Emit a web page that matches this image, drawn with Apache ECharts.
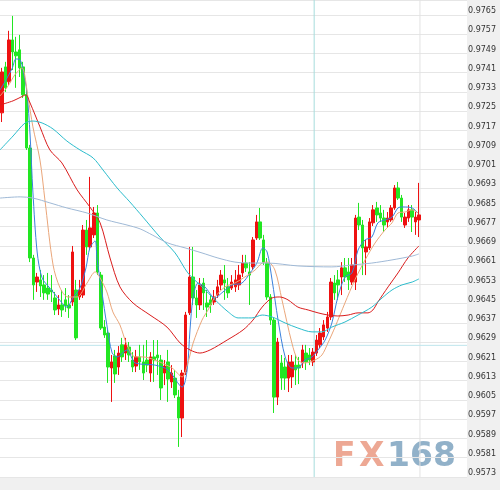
<!DOCTYPE html>
<html>
<head>
<meta charset="utf-8">
<script src="https://cdn.jsdelivr.net/npm/echarts@6.0.0/dist/echarts.min.js"></script>
<style>
html, body { margin: 0; padding: 0; background: #fff; }
#main { width: 500px; height: 490px; }
</style>
</head>
<body>
<div id="main"></div>
<script>
// number of time slots on the x axis (candles fill the first 119, the rest is empty)
var slotCount = 132

// candles (red = up, green = down)
var openPrices = [
  0.97243, 0.97434, 0.97372, 0.97546, 0.97496, 0.97505, 0.97434, 0.97318, 0.97097, 0.96640,
  0.96540, 0.96549, 0.96528, 0.96515, 0.96507, 0.96474, 0.96428, 0.96445, 0.96466, 0.96445,
  0.96457, 0.96507, 0.96478, 0.96486, 0.96756, 0.96686, 0.96736, 0.96827, 0.96569, 0.96353,
  0.96328, 0.96183, 0.96233, 0.96187, 0.96279, 0.96245, 0.96270, 0.96216, 0.96191, 0.96229,
  0.96208, 0.96216, 0.96162, 0.96229, 0.96237, 0.96216, 0.96162, 0.96208, 0.96125, 0.96141,
  0.96062, 0.95975, 0.96166, 0.96412, 0.96561, 0.96474, 0.96445, 0.96536, 0.96453, 0.96466,
  0.96457, 0.96486, 0.96528, 0.96549, 0.96520, 0.96515, 0.96520, 0.96528, 0.96578, 0.96619,
  0.96582, 0.96603, 0.96723, 0.96790, 0.96715, 0.96619, 0.96478, 0.96382, 0.96062, 0.96204,
  0.96187, 0.96141, 0.96146, 0.96195, 0.96195, 0.96204, 0.96245, 0.96237, 0.96208, 0.96245,
  0.96279, 0.96312, 0.96349, 0.96395, 0.96536, 0.96549, 0.96561, 0.96599, 0.96582, 0.96540,
  0.96540, 0.96810, 0.96777, 0.96665, 0.96682, 0.96786, 0.96848, 0.96827, 0.96806, 0.96790,
  0.96798, 0.96848, 0.96931, 0.96889, 0.96777, 0.96806, 0.96840, 0.96790, 0.96798
]
var closePrices = [
  0.97413, 0.97347, 0.97546, 0.97496, 0.97480, 0.97430, 0.97318, 0.97097, 0.96640, 0.96528,
  0.96561, 0.96524, 0.96495, 0.96490, 0.96499, 0.96424, 0.96445, 0.96424, 0.96441, 0.96432,
  0.96665, 0.96308, 0.96507, 0.96756, 0.96686, 0.96765, 0.96827, 0.96582, 0.96349, 0.96320,
  0.96187, 0.96208, 0.96158, 0.96245, 0.96229, 0.96279, 0.96237, 0.96187, 0.96229, 0.96208,
  0.96162, 0.96195, 0.96229, 0.96216, 0.96225, 0.96100, 0.96191, 0.96137, 0.96162, 0.96071,
  0.95975, 0.96162, 0.96403, 0.96561, 0.96474, 0.96445, 0.96528, 0.96495, 0.96436, 0.96445,
  0.96478, 0.96520, 0.96569, 0.96536, 0.96495, 0.96540, 0.96549, 0.96569, 0.96619, 0.96599,
  0.96569, 0.96715, 0.96790, 0.96723, 0.96623, 0.96478, 0.96382, 0.96062, 0.96291, 0.96141,
  0.96141, 0.96208, 0.96208, 0.96175, 0.96183, 0.96258, 0.96208, 0.96216, 0.96249, 0.96299,
  0.96328, 0.96362, 0.96395, 0.96540, 0.96495, 0.96528, 0.96599, 0.96561, 0.96549, 0.96611,
  0.96806, 0.96777, 0.96682, 0.96686, 0.96790, 0.96840, 0.96819, 0.96806, 0.96777, 0.96806,
  0.96848, 0.96931, 0.96889, 0.96810, 0.96810, 0.96840, 0.96810, 0.96810, 0.96819
]
var lowPrices = [
  0.97205, 0.97330, 0.97359, 0.97421, 0.97347, 0.97392, 0.97305, 0.97089, 0.96623, 0.96466,
  0.96499, 0.96478, 0.96466, 0.96466, 0.96457, 0.96403, 0.96403, 0.96395, 0.96416, 0.96391,
  0.96441, 0.96299, 0.96466, 0.96474, 0.96653, 0.96673, 0.96723, 0.96569, 0.96341, 0.96308,
  0.96121, 0.96042, 0.96121, 0.96154, 0.96208, 0.96216, 0.96208, 0.96166, 0.96166, 0.96175,
  0.96133, 0.96166, 0.96125, 0.96125, 0.96154, 0.96050, 0.96112, 0.96042, 0.96100, 0.96058,
  0.95855, 0.95896, 0.96154, 0.96403, 0.96445, 0.96391, 0.96424, 0.96424, 0.96395, 0.96412,
  0.96445, 0.96474, 0.96507, 0.96466, 0.96474, 0.96507, 0.96499, 0.96507, 0.96561, 0.96582,
  0.96445, 0.96590, 0.96715, 0.96715, 0.96611, 0.96466, 0.96362, 0.95996, 0.96029, 0.96092,
  0.96092, 0.96083, 0.96100, 0.96112, 0.96116, 0.96183, 0.96175, 0.96195, 0.96191, 0.96233,
  0.96266, 0.96299, 0.96333, 0.96382, 0.96466, 0.96466, 0.96486, 0.96540, 0.96507, 0.96528,
  0.96507, 0.96756, 0.96569, 0.96569, 0.96673, 0.96773, 0.96790, 0.96790, 0.96748, 0.96765,
  0.96790, 0.96840, 0.96881, 0.96790, 0.96765, 0.96790, 0.96748, 0.96736, 0.96727
]
var highPrices = [
  0.97430, 0.97455, 0.97584, 0.97646, 0.97559, 0.97567, 0.97455, 0.97338, 0.97110, 0.96653,
  0.96578, 0.96590, 0.96569, 0.96578, 0.96569, 0.96499, 0.96486, 0.96507, 0.96515, 0.96486,
  0.96690, 0.96549, 0.96549, 0.96777, 0.96798, 0.96977, 0.96852, 0.96860, 0.96582, 0.96382,
  0.96341, 0.96237, 0.96258, 0.96274, 0.96308, 0.96308, 0.96291, 0.96249, 0.96258, 0.96279,
  0.96279, 0.96299, 0.96249, 0.96299, 0.96299, 0.96237, 0.96216, 0.96258, 0.96195, 0.96175,
  0.96092, 0.96175, 0.96416, 0.96686, 0.96686, 0.96507, 0.96557, 0.96557, 0.96507, 0.96486,
  0.96507, 0.96549, 0.96590, 0.96611, 0.96557, 0.96569, 0.96590, 0.96611, 0.96653, 0.96653,
  0.96623, 0.96727, 0.96819, 0.96848, 0.96736, 0.96640, 0.96490, 0.96391, 0.96308, 0.96237,
  0.96225, 0.96237, 0.96237, 0.96237, 0.96229, 0.96279, 0.96279, 0.96266, 0.96266, 0.96320,
  0.96349, 0.96382, 0.96416, 0.96557, 0.96569, 0.96590, 0.96623, 0.96640, 0.96640, 0.96640,
  0.96819, 0.96869, 0.96798, 0.96715, 0.96806, 0.96860, 0.96873, 0.96860, 0.96840, 0.96831,
  0.96860, 0.96943, 0.96956, 0.96902, 0.96827, 0.96860, 0.96860, 0.96831, 0.96952
]

// moving average lines as [slot, price]
var maBlue = [
  [-0.5, 0.97338], [1.5, 0.97388], [3, 0.97430], [4, 0.97467], [5.2, 0.97463], [6, 0.97421],
  [7.1, 0.97330], [8, 0.97151], [8.8, 0.96914], [10, 0.96665], [11.4, 0.96557], [13.6, 0.96515],
  [15.9, 0.96474], [18.4, 0.96436], [20.1, 0.96474], [22.1, 0.96515], [23.8, 0.96599], [24.9, 0.96682],
  [26.4, 0.96711], [26.9, 0.96640], [28.3, 0.96499], [29.7, 0.96362], [31.2, 0.96245], [32.6, 0.96229],
  [35.4, 0.96258], [37.7, 0.96204], [43.3, 0.96195], [47, 0.96175], [51, 0.96104], [52.4, 0.96175],
  [53.2, 0.96341], [54.1, 0.96478], [55.5, 0.96536], [57.4, 0.96520], [60.3, 0.96474], [62.2, 0.96495],
  [65.1, 0.96528], [67.9, 0.96536], [70.2, 0.96578], [72.1, 0.96619], [73.8, 0.96682], [75, 0.96665],
  [76.4, 0.96549], [78.1, 0.96382], [80.1, 0.96229], [82, 0.96183], [83.7, 0.96183], [85.7, 0.96216],
  [87.7, 0.96229], [89.4, 0.96258], [91.4, 0.96299], [93.3, 0.96370], [95, 0.96478], [97, 0.96561],
  [99, 0.96578], [100.7, 0.96673], [102.7, 0.96715], [104.6, 0.96727], [106.3, 0.96786], [108.3, 0.96798],
  [110.3, 0.96810], [112, 0.96848], [113.4, 0.96852], [116, 0.96848], [117.6, 0.96827]
]
var maTan = [
  [-0.5, 0.97313], [1.8, 0.97355], [3.7, 0.97401], [5.7, 0.97430], [7.4, 0.97309], [8.8, 0.97185],
  [10.8, 0.97047], [12.2, 0.96881], [14.5, 0.96611], [16.5, 0.96515], [18.7, 0.96478], [21.3, 0.96478],
  [24.1, 0.96536], [26.4, 0.96582], [27.8, 0.96557], [29.7, 0.96499], [31.4, 0.96416], [33.4, 0.96362],
  [35.4, 0.96279], [37.7, 0.96229], [39.9, 0.96229], [43.3, 0.96216], [48.1, 0.96183], [51, 0.96146],
  [52.6, 0.96204], [54.1, 0.96287], [56.6, 0.96382], [58.3, 0.96424], [60.3, 0.96478], [63.1, 0.96520],
  [65.9, 0.96536], [68.7, 0.96561], [71.6, 0.96590], [73.6, 0.96619], [75.2, 0.96623], [77.2, 0.96590],
  [79.2, 0.96466], [82, 0.96287], [83.7, 0.96216], [85.7, 0.96204], [88.5, 0.96216], [90.5, 0.96237],
  [92.2, 0.96287], [94.2, 0.96353], [97, 0.96453], [99.8, 0.96549], [102.7, 0.96632], [105.5, 0.96702],
  [108.3, 0.96756], [110.3, 0.96786], [112, 0.96827], [114, 0.96831], [116, 0.96840], [117.6, 0.96827]
]
var maRed = [
  [-0.5, 0.97276], [3.2, 0.97293], [6, 0.97313], [6.8, 0.97318], [8, 0.97284], [10.8, 0.97185],
  [13.6, 0.97089], [17, 0.97035], [21.3, 0.96923], [24.9, 0.96852], [27.8, 0.96786], [30.6, 0.96640],
  [33.4, 0.96520], [37.1, 0.96453], [41.9, 0.96403], [46.7, 0.96353], [50.4, 0.96287], [53.2, 0.96258],
  [56, 0.96245], [58.9, 0.96258], [63.7, 0.96299], [68.2, 0.96341], [71, 0.96382], [73.6, 0.96436],
  [76.4, 0.96474], [78.6, 0.96478], [80.9, 0.96466], [83.7, 0.96436], [86.6, 0.96424], [89.4, 0.96412],
  [92.2, 0.96403], [95, 0.96399], [97.9, 0.96403], [100.7, 0.96412], [103.5, 0.96412], [104.9, 0.96424],
  [106.3, 0.96457], [109.2, 0.96520], [112, 0.96578], [114.8, 0.96640], [117.9, 0.96690]
]
var maCyan = [
  [-0.5, 0.97089], [3.2, 0.97147], [6.6, 0.97201], [8.8, 0.97209], [11.4, 0.97201], [14.5, 0.97176],
  [18.4, 0.97126], [22.1, 0.97089], [25.8, 0.97056], [28.6, 0.97006], [32.6, 0.96931], [36.2, 0.96873],
  [39.9, 0.96810], [44.7, 0.96727], [49, 0.96661], [52.6, 0.96578], [56.6, 0.96520], [60.3, 0.96466],
  [64, 0.96416], [66.8, 0.96391], [70.7, 0.96391], [73.6, 0.96403], [76.4, 0.96395], [80.1, 0.96370],
  [83.7, 0.96349], [87.7, 0.96333], [90.5, 0.96333], [93.3, 0.96353], [97, 0.96374], [100.7, 0.96403],
  [104.6, 0.96436], [107.5, 0.96474], [110.3, 0.96507], [113.1, 0.96528], [116, 0.96540], [117.9, 0.96553]
]
var maSteel = [
  [-0.5, 0.96889], [5.2, 0.96894], [8.8, 0.96889], [13.6, 0.96869], [18.4, 0.96848], [24.1, 0.96827],
  [29.7, 0.96798], [35.4, 0.96777], [39.1, 0.96761], [42.5, 0.96736], [47, 0.96702], [51.8, 0.96682],
  [56.6, 0.96661], [61.1, 0.96640], [65.9, 0.96623], [70.7, 0.96619], [75.2, 0.96619], [83.7, 0.96607],
  [93.3, 0.96603], [99, 0.96611], [104.6, 0.96619], [110.3, 0.96632], [116, 0.96648], [117.9, 0.96657]
]

// crosshair and the "now" line
var crossSlot = 88.3
var crossPrice = 0.96277
var nowSlot = 118.2

var priceMin = 0.9573
var priceMax = 0.97712

var slotLabels = []
for (var i = 0; i < slotCount; i++) slotLabels.push(String(i))

var candles = openPrices.map(function (o, k) {
  return [o, closePrices[k], lowPrices[k], highPrices[k]]
})

var UP = '#ee1111'
var DOWN = '#22e622'

function maSeries (points, color) {
  return {
    type: 'line',
    xAxisIndex: 1,
    data: points,
    showSymbol: false,
    smooth: 0.3,
    silent: true,
    lineStyle: { width: 1, color: color },
    itemStyle: { color: color }
  }
}

function guide (points, color) {
  return {
    type: 'line',
    xAxisIndex: 1,
    data: points,
    showSymbol: false,
    silent: true,
    z: 1,
    lineStyle: { width: 1, color: color },
    itemStyle: { color: color }
  }
}

var chartDom = document.getElementById('main')
var myChart = echarts.init(chartDom)

var option = {
  animation: false,
  backgroundColor: '#f0f0f0',
  grid: {
    left: 0, right: 33, top: 0, bottom: 13,
    show: true, backgroundColor: '#fff', borderWidth: 0
  },
  xAxis: [
    { type: 'category', data: slotLabels, boundaryGap: true, show: false },
    { type: 'value', min: -0.5, max: slotCount - 0.5, show: false }
  ],
  yAxis: {
    type: 'value',
    position: 'right',
    min: priceMin,
    max: priceMax,
    interval: 0.0008,
    axisLine: { show: false },
    axisTick: { show: false },
    splitLine: { lineStyle: { color: '#e6e6e6', width: 1 } },
    axisLabel: {
      margin: 1,
      fontSize: 8,
      fontFamily: 'DejaVu Sans',
      color: '#333',
      verticalAlign: 'bottom',
      showMaxLabel: false,
      formatter: function (v) { return v.toFixed(4) }
    }
  },
  graphic: [
    { type: 'text', left: 333, top: 441, style: { text: 'F', font: 'bold 33px "DejaVu Sans"', fill: '#eda894' } },
    { type: 'text', left: 359, top: 441, style: { text: 'X', font: 'bold 33px "DejaVu Sans"', fill: '#eda894' } },
    { type: 'text', left: 387, top: 441, style: { text: '168', font: 'bold 33px "DejaVu Sans"', fill: '#91b1c9' } }
  ],
  series: [
    guide([[nowSlot, priceMin], [nowSlot, priceMax]], '#e2e2e2'),
    guide([[crossSlot, priceMin], [crossSlot, priceMax]], '#a6dcdc'),
    guide([[-0.5, crossPrice], [slotCount - 0.5, crossPrice]], '#bfe6ec'),
    {
      type: 'candlestick',
      xAxisIndex: 0,
      data: candles,
      barWidth: 3,
      silent: true,
      itemStyle: {
        color: UP, color0: DOWN,
        borderColor: UP, borderColor0: DOWN,
        borderWidth: 1
      }
    },
    maSeries(maBlue, '#3a80dc'),
    maSeries(maTan, '#eaa67a'),
    maSeries(maRed, '#d91c1c'),
    maSeries(maCyan, '#2cbccc'),
    maSeries(maSteel, '#9fb9d6')
  ]
}

myChart.setOption(option)
</script>
</body>
</html>
